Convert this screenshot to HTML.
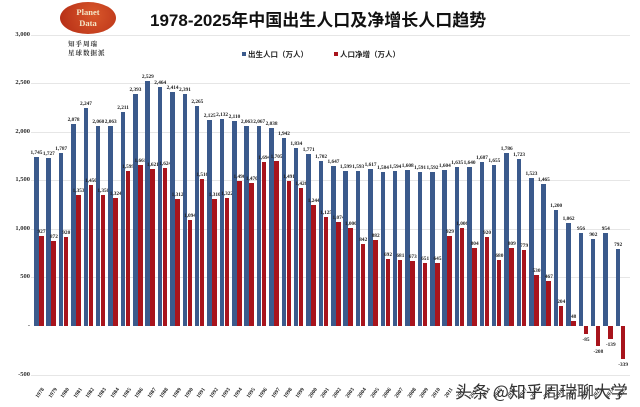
<!DOCTYPE html>
<html><head><meta charset="utf-8"><style>
body{margin:0;background:#fff;width:640px;height:407px;overflow:hidden;position:relative;font-family:"Liberation Serif","Noto Serif CJK SC",serif}
.t{position:absolute;left:150px;top:6px;font:bold 17px "Liberation Sans","Noto Sans CJK SC",sans-serif;color:#111}
.logo{position:absolute;left:60px;top:2px;width:56px;height:32px;border-radius:50%;background:radial-gradient(circle at 60% 40%,#d9572a,#b22a14);color:#f4e7c8;font:bold 8.5px "Liberation Serif",serif;text-align:center;line-height:11px;padding-top:5px;box-sizing:border-box}
.lt{position:absolute;left:68px;top:39px;font:bold 6.5px "Noto Serif CJK SC",serif;line-height:9px;color:#333;letter-spacing:1px}
.leg{position:absolute;top:49px;font:bold 7.5px "Liberation Sans","Noto Sans CJK SC",sans-serif;color:#222}
.leg i{display:inline-block;width:4px;height:4px;margin-right:2px;vertical-align:1px}
.ya{position:absolute;left:4px;width:26px;text-align:right;font:bold 6.5px "Liberation Serif",serif;color:#333}
.g{position:absolute;left:31px;width:599px;height:1px;background:#e6e6e6}
.plot{position:absolute;left:31px;top:35px;width:599px;height:340px;display:flex}
.c{position:relative;width:12.38px;height:340px;flex:none}
.c b{position:absolute;width:4.6px}
.bb{background:#3b5a8c;left:3px;bottom:49px;height:calc(var(--b)*0.097px)}
.rb{background:#a8141c;left:8px;bottom:49px;height:calc(var(--r)*0.097px)}
.rn{background:#a8141c;left:8px;top:291px;height:calc(var(--n)*0.097px)}
.c s,.c u,.c i{position:absolute;text-decoration:none;font:bold 5.3px "Liberation Serif",serif;color:#222;white-space:nowrap;width:20px;text-align:center}
.c s{left:-4.5px;bottom:calc(50px + var(--b)*0.097px)}
.c u{left:0.5px;bottom:calc(50px + var(--r)*0.097px)}
.c i{left:0.5px;top:calc(294px + var(--n)*0.097px)}
.yr{position:absolute;top:352px;right:2px;font:bold 5.5px "Liberation Serif",serif;color:#222;transform:rotate(-55deg);transform-origin:right top;white-space:nowrap}
.wm{position:absolute;left:455px;top:378px;font:17px "Noto Sans CJK SC",sans-serif;color:#333}
</style></head><body>
<div class="logo">Planet<br>Data</div>
<div class="lt">知乎周瑞<br>星球数据派</div>
<div class="t">1978-2025年中国出生人口及净增长人口趋势</div>
<div class="leg" style="left:242px"><i style="background:#3b5a8c"></i>出生人口（万人）</div>
<div class="leg" style="left:334px"><i style="background:#a8141c"></i>人口净增（万人）</div>
<div class="g" style="top:35px"></div><div class="g" style="top:83px"></div><div class="g" style="top:132px"></div><div class="g" style="top:180px"></div><div class="g" style="top:229px"></div><div class="g" style="top:277px"></div><div class="g" style="top:375px"></div>
<div class="ya" style="top:31px">3,000</div><div class="ya" style="top:79px">2,500</div><div class="ya" style="top:128px">2,000</div><div class="ya" style="top:176px">1,500</div><div class="ya" style="top:225px">1,000</div><div class="ya" style="top:273px">500</div><div class="ya" style="top:322px">-</div><div class="ya" style="top:371px">-500</div>
<div class="plot">
<div class="c" style="--b:1745;--r:927"><b class="bb"></b><b class="rb"></b><s>1,745</s><u>927</u><span class="yr">1978</span></div>
<div class="c" style="--b:1727;--r:872"><b class="bb"></b><b class="rb"></b><s>1,727</s><u>872</u><span class="yr">1979</span></div>
<div class="c" style="--b:1787;--r:920"><b class="bb"></b><b class="rb"></b><s>1,787</s><u>920</u><span class="yr">1980</span></div>
<div class="c" style="--b:2078;--r:1353"><b class="bb"></b><b class="rb"></b><s>2,078</s><u>1,353</u><span class="yr">1981</span></div>
<div class="c" style="--b:2247;--r:1450"><b class="bb"></b><b class="rb"></b><s>2,247</s><u>1,450</u><span class="yr">1982</span></div>
<div class="c" style="--b:2060;--r:1350"><b class="bb"></b><b class="rb"></b><s>2,060</s><u>1,350</u><span class="yr">1983</span></div>
<div class="c" style="--b:2063;--r:1324"><b class="bb"></b><b class="rb"></b><s>2,063</s><u>1,324</u><span class="yr">1984</span></div>
<div class="c" style="--b:2211;--r:1599"><b class="bb"></b><b class="rb"></b><s>2,211</s><u>1,599</u><span class="yr">1985</span></div>
<div class="c" style="--b:2393;--r:1661"><b class="bb"></b><b class="rb"></b><s>2,393</s><u>1,661</u><span class="yr">1986</span></div>
<div class="c" style="--b:2529;--r:1621"><b class="bb"></b><b class="rb"></b><s>2,529</s><u>1,621</u><span class="yr">1987</span></div>
<div class="c" style="--b:2464;--r:1624"><b class="bb"></b><b class="rb"></b><s>2,464</s><u>1,624</u><span class="yr">1988</span></div>
<div class="c" style="--b:2414;--r:1312"><b class="bb"></b><b class="rb"></b><s>2,414</s><u>1,312</u><span class="yr">1989</span></div>
<div class="c" style="--b:2391;--r:1094"><b class="bb"></b><b class="rb"></b><s>2,391</s><u>1,094</u><span class="yr">1990</span></div>
<div class="c" style="--b:2265;--r:1516"><b class="bb"></b><b class="rb"></b><s>2,265</s><u>1,516</u><span class="yr">1991</span></div>
<div class="c" style="--b:2125;--r:1310"><b class="bb"></b><b class="rb"></b><s>2,125</s><u>1,310</u><span class="yr">1992</span></div>
<div class="c" style="--b:2132;--r:1322"><b class="bb"></b><b class="rb"></b><s>2,132</s><u>1,322</u><span class="yr">1993</span></div>
<div class="c" style="--b:2110;--r:1496"><b class="bb"></b><b class="rb"></b><s>2,110</s><u>1,496</u><span class="yr">1994</span></div>
<div class="c" style="--b:2063;--r:1470"><b class="bb"></b><b class="rb"></b><s>2,063</s><u>1,470</u><span class="yr">1995</span></div>
<div class="c" style="--b:2067;--r:1694"><b class="bb"></b><b class="rb"></b><s>2,067</s><u>1,694</u><span class="yr">1996</span></div>
<div class="c" style="--b:2038;--r:1705"><b class="bb"></b><b class="rb"></b><s>2,038</s><u>1,705</u><span class="yr">1997</span></div>
<div class="c" style="--b:1942;--r:1491"><b class="bb"></b><b class="rb"></b><s>1,942</s><u>1,491</u><span class="yr">1998</span></div>
<div class="c" style="--b:1834;--r:1426"><b class="bb"></b><b class="rb"></b><s>1,834</s><u>1,426</u><span class="yr">1999</span></div>
<div class="c" style="--b:1771;--r:1244"><b class="bb"></b><b class="rb"></b><s>1,771</s><u>1,244</u><span class="yr">2000</span></div>
<div class="c" style="--b:1702;--r:1125"><b class="bb"></b><b class="rb"></b><s>1,702</s><u>1,125</u><span class="yr">2001</span></div>
<div class="c" style="--b:1647;--r:1074"><b class="bb"></b><b class="rb"></b><s>1,647</s><u>1,074</u><span class="yr">2002</span></div>
<div class="c" style="--b:1599;--r:1006"><b class="bb"></b><b class="rb"></b><s>1,599</s><u>1,006</u><span class="yr">2003</span></div>
<div class="c" style="--b:1593;--r:842"><b class="bb"></b><b class="rb"></b><s>1,593</s><u>842</u><span class="yr">2004</span></div>
<div class="c" style="--b:1617;--r:882"><b class="bb"></b><b class="rb"></b><s>1,617</s><u>882</u><span class="yr">2005</span></div>
<div class="c" style="--b:1584;--r:692"><b class="bb"></b><b class="rb"></b><s>1,584</s><u>692</u><span class="yr">2006</span></div>
<div class="c" style="--b:1594;--r:681"><b class="bb"></b><b class="rb"></b><s>1,594</s><u>681</u><span class="yr">2007</span></div>
<div class="c" style="--b:1608;--r:673"><b class="bb"></b><b class="rb"></b><s>1,608</s><u>673</u><span class="yr">2008</span></div>
<div class="c" style="--b:1591;--r:651"><b class="bb"></b><b class="rb"></b><s>1,591</s><u>651</u><span class="yr">2009</span></div>
<div class="c" style="--b:1592;--r:645"><b class="bb"></b><b class="rb"></b><s>1,592</s><u>645</u><span class="yr">2010</span></div>
<div class="c" style="--b:1604;--r:929"><b class="bb"></b><b class="rb"></b><s>1,604</s><u>929</u><span class="yr">2011</span></div>
<div class="c" style="--b:1635;--r:1006"><b class="bb"></b><b class="rb"></b><s>1,635</s><u>1,006</u><span class="yr">2012</span></div>
<div class="c" style="--b:1640;--r:804"><b class="bb"></b><b class="rb"></b><s>1,640</s><u>804</u><span class="yr">2013</span></div>
<div class="c" style="--b:1687;--r:920"><b class="bb"></b><b class="rb"></b><s>1,687</s><u>920</u><span class="yr">2014</span></div>
<div class="c" style="--b:1655;--r:680"><b class="bb"></b><b class="rb"></b><s>1,655</s><u>680</u><span class="yr">2015</span></div>
<div class="c" style="--b:1786;--r:809"><b class="bb"></b><b class="rb"></b><s>1,786</s><u>809</u><span class="yr">2016</span></div>
<div class="c" style="--b:1723;--r:779"><b class="bb"></b><b class="rb"></b><s>1,723</s><u>779</u><span class="yr">2017</span></div>
<div class="c" style="--b:1523;--r:530"><b class="bb"></b><b class="rb"></b><s>1,523</s><u>530</u><span class="yr">2018</span></div>
<div class="c" style="--b:1465;--r:467"><b class="bb"></b><b class="rb"></b><s>1,465</s><u>467</u><span class="yr">2019</span></div>
<div class="c" style="--b:1200;--r:204"><b class="bb"></b><b class="rb"></b><s>1,200</s><u>204</u><span class="yr">2020</span></div>
<div class="c" style="--b:1062;--r:48"><b class="bb"></b><b class="rb"></b><s>1,062</s><u>48</u><span class="yr">2021</span></div>
<div class="c" style="--b:956;--n:85"><b class="bb"></b><b class="rn"></b><s>956</s><i>-85</i><span class="yr">2022</span></div>
<div class="c" style="--b:902;--n:208"><b class="bb"></b><b class="rn"></b><s>902</s><i>-208</i><span class="yr">2023</span></div>
<div class="c" style="--b:954;--n:139"><b class="bb"></b><b class="rn"></b><s>954</s><i>-139</i><span class="yr">2024</span></div>
<div class="c" style="--b:792;--n:339"><b class="bb"></b><b class="rn"></b><s>792</s><i>-339</i><span class="yr">2025</span></div>
</div>
<div class="wm">头条 @知乎周瑞聊大学</div>
</body></html>
